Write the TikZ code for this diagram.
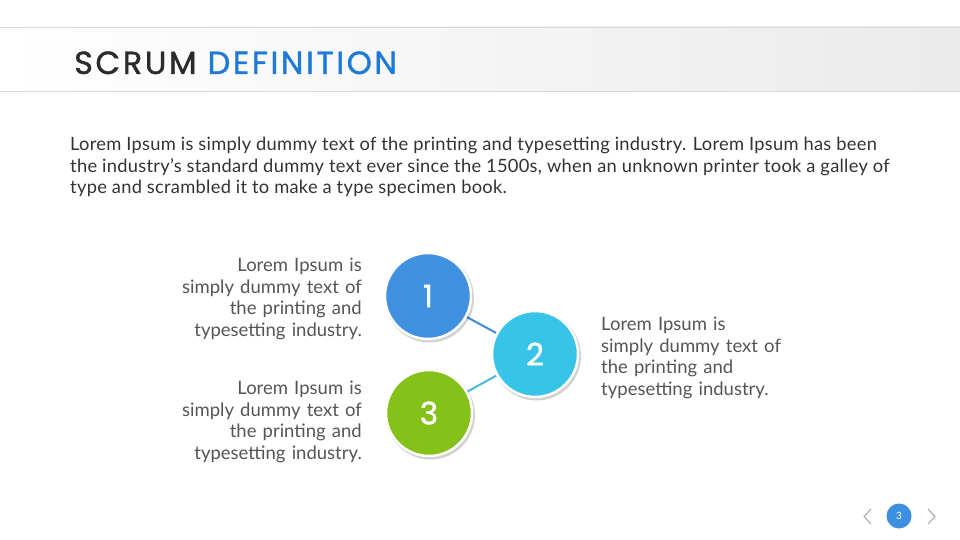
\documentclass[tikz,border=0pt]{standalone}
\usepackage{fontspec}
\setmainfont{Lato}
\newfontfamily\titlefont[FakeBold=1.2]{Poppins}
\newfontfamily\numfont[FakeBold=1.2]{Poppins}
\usetikzlibrary{shadows}
\definecolor{tdark}{HTML}{2B2B2B}
\definecolor{tblue}{HTML}{1E7AD6}
\definecolor{body}{HTML}{333333}
\definecolor{side}{HTML}{555555}
\definecolor{cone}{HTML}{4191E1}
\definecolor{ctwo}{HTML}{38C4E8}
\definecolor{cthree}{HTML}{84C21A}
\definecolor{lineA}{HTML}{3C8CD6}
\definecolor{lineB}{HTML}{4BB8E2}
\definecolor{pgblue}{HTML}{3D8FE0}
\tikzset{
  numc/.style={circle, minimum size=86pt, inner sep=0pt, draw=white, line width=2.5pt,
    text=white, font=\numfont\fontsize{31}{31}\selectfont},
  shd/.style={circle, minimum size=89pt, inner sep=0pt, fill=black, opacity=0.18},
  sidetext/.style={text=side, font=\fontsize{18.5}{21.6}\selectfont, inner sep=0pt, text width=200pt},
}
\begin{document}
\begin{tikzpicture}[x=1pt,y=-1pt]
\useasboundingbox (0,0) rectangle (960,540);
\fill[white] (0,0) rectangle (960,540);
% header band
\shade[left color=white, right color=black!8] (0,27) rectangle (960,92);
\draw[black!15, line width=0.8pt] (0,27.5) -- (960,27.5);
\draw[black!15, line width=0.8pt] (0,91.5) -- (960,91.5);
\node[anchor=base west, inner sep=0pt, font=\titlefont\fontsize{32}{32}\selectfont\addfontfeatures{LetterSpace=8}] (title) at (74,74)
  {\textcolor{tdark}{SCRUM} \textcolor{tblue}{DEFINITION}};
% paragraph
\node[anchor=north west, inner sep=0pt, align=left, text=body,
  font=\fontsize{18.3}{21.6}\selectfont\addfontfeatures{LetterSpace=1.5}] (para) at (70,137)
  {Lorem Ipsum is simply dummy text of the printing and typesetting industry. Lorem Ipsum has been\\the industry's standard dummy text ever since the 1500s, when an unknown printer took a galley of\\type and scrambled it to make a type specimen book.};
% connectors
\coordinate (p1) at (428,296);
\coordinate (p2) at (535,354);
\coordinate (p3) at (429,413);
\draw[lineA, line width=2pt] (p1) -- (p2);
\draw[lineB, line width=2pt] (p2) -- (p3);
% circles
\node[shd] (s1) at (429.5,298) {};
\node[numc, fill=cone] (c1) at (p1) {1};
\node[shd] (s2) at (536.5,356) {};
\node[numc, fill=ctwo] (c2) at (p2) {2};
\node[shd] (s3) at (430.5,415) {};
\node[numc, fill=cthree] (c3) at (p3) {3};
% side texts
\node[sidetext, align=right, anchor=north east] (t1) at (362,258)
  {Lorem Ipsum is\\simply dummy text of\\the printing and\\typesetting industry.};
\node[sidetext, align=right, anchor=north east] (t3) at (362,381)
  {Lorem Ipsum is\\simply dummy text of\\the printing and\\typesetting industry.};
\node[sidetext, align=left, anchor=north west] (t2) at (601,317)
  {Lorem Ipsum is\\simply dummy text of\\the printing and\\typesetting industry.};
% pager
\node[circle, fill=pgblue, minimum size=25pt, inner sep=0pt, text=white, font=\fontsize{10}{10}\selectfont] (pg) at (899,516) {3};
\draw[black!35, line width=1pt] (871,509) -- (864,516.5) -- (871,524);
\draw[black!35, line width=1pt] (928,509) -- (935,516.5) -- (928,524);
\end{tikzpicture}
\end{document}
